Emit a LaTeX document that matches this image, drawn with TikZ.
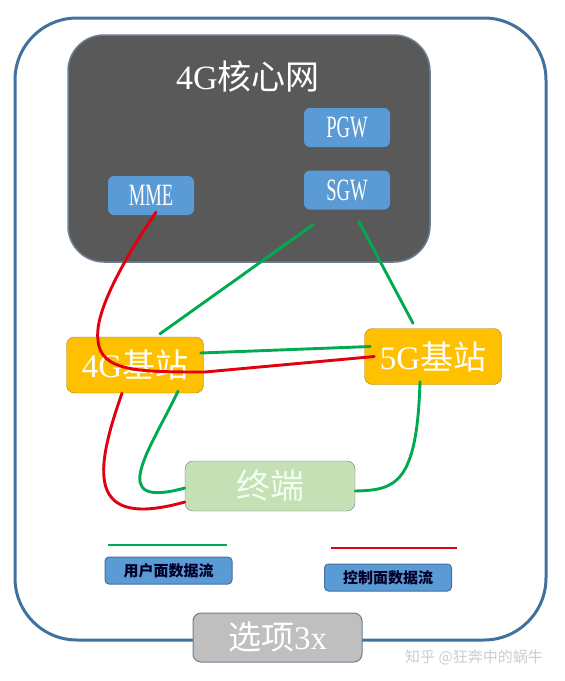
\documentclass[tikz,border=0pt]{standalone}
\usepackage{fontspec}
\setmainfont{Liberation Serif}
\newfontfamily\cjk{Noto Sans CJK SC}
\newfontfamily\narrow[FakeStretch=0.6]{Liberation Serif}
\usepackage{tikz}
\definecolor{frame}{RGB}{65,113,156}
\definecolor{core}{RGB}{89,89,89}
\definecolor{coreline}{RGB}{109,127,146}
\definecolor{netblue}{RGB}{91,155,213}
\definecolor{station}{RGB}{255,192,0}
\definecolor{stationline}{RGB}{160,128,40}
\definecolor{ueg}{RGB}{197,224,180}
\definecolor{optgray}{RGB}{191,191,191}
\definecolor{userg}{RGB}{0,170,80}
\definecolor{ctrlr}{RGB}{225,0,15}
\tikzset{
  netbox/.style={fill=netblue,rounded corners=6pt,minimum width=86pt,minimum height=39pt,text=white,font=\narrow\fontsize{31}{33}\selectfont},
  bsbox/.style={fill=station,draw=stationline,rounded corners=8pt,minimum width=137pt,minimum height=56pt,text=white,font=\fontsize{33}{36}\selectfont},
  keybox/.style={fill=netblue,draw=frame,line width=1pt,rounded corners=4pt,minimum width=127pt,minimum height=27pt,text=black!85!blue,font=\cjk\bfseries\fontsize{15}{17}\selectfont},
  user/.style={userg,line width=2.9pt,line cap=round},
  ctrl/.style={ctrlr,line width=2.9pt,line cap=round}
}
\begin{document}
\begin{tikzpicture}[x=1pt,y=-1pt]
\useasboundingbox (0,0) rectangle (565,681);
\draw [frame,line width=3pt,rounded corners=62pt] (15,18) rectangle (546,640);
\draw [coreline,fill=core,line width=1.5pt,rounded corners=36pt] (68,35) rectangle (430,262);
\node [text=white,font=\fontsize{34}{38}\selectfont] (title) at (248,77) {4G\cjk 核心网};

\node [netbox] (pgw) at (347,127.5) {PGW};
\node [netbox] (sgw) at (347,190) {SGW};
\node [netbox] (mme) at (151,195.5) {MME};

\node [bsbox] (bs4) at (135,365) {4G\cjk 基站};
\node [bsbox] (bs5) at (433,356.5) {5G\cjk 基站};
\node [fill=ueg,draw=coreline,rounded corners=8pt,minimum width=170pt,minimum height=50pt,text=white!94!green,font=\cjk\fontsize{34}{36}\selectfont] (ue) at (270,486) {终端};

% user plane
\draw [user] ([xshift=-34pt,yshift=-15pt]sgw.south) -- ([xshift=25pt,yshift=3pt]bs4.north);
\draw [user] ([xshift=12pt,yshift=-12pt]sgw.south) -- ([xshift=-20pt,yshift=5pt]bs5.north);
\draw [user] ([xshift=-3pt,yshift=12pt]bs4.east) -- ([xshift=6pt,yshift=10pt]bs5.west);
\draw [user] ([xshift=43pt,yshift=2pt]bs4.south) .. controls (150,450) and (105,510) .. ([yshift=-2pt]ue.west);
\draw [user] ([xshift=-13pt,yshift=3pt]bs5.south) .. controls (417,485) and (395,490) .. ([yshift=-5pt]ue.east);
% control plane
\draw [ctrl] ([xshift=5pt,yshift=3pt]mme.south) .. controls (110,280) and (95,320) .. (98,340) .. controls (100,372) and (140,372) .. (205,372) -- ([xshift=10pt]bs5.west);
\draw [ctrl] ([xshift=-13pt]bs4.south) .. controls (95,470) and (85,530) .. ([yshift=-16pt]ue.west);

% legend
\node [keybox] (ukey) at (168.5,570.5) {用户面数据流};
\node [keybox] (ckey) at (388,577.5) {控制面数据流};
\coordinate (ua) at (108,545);
\coordinate (ub) at (227,545);
\coordinate (ca) at (331,548);
\coordinate (cb) at (457,548);
\draw [user,line cap=butt] (ua) -- (ub);
\draw [ctrl,line cap=butt] (ca) -- (cb);

\node [fill=optgray,draw=coreline,line width=1pt,rounded corners=8pt,minimum width=169pt,minimum height=49pt,text=white,font=\fontsize{33}{36}\selectfont] (opt) at (277.5,637.5) {\cjk 选项\rmfamily 3x};
\node [text=black!20,font=\cjk\fontsize{15}{17}\selectfont] (mark) at (474,657) {知乎 @狂奔中的蜗牛};
\end{tikzpicture}
\end{document}
